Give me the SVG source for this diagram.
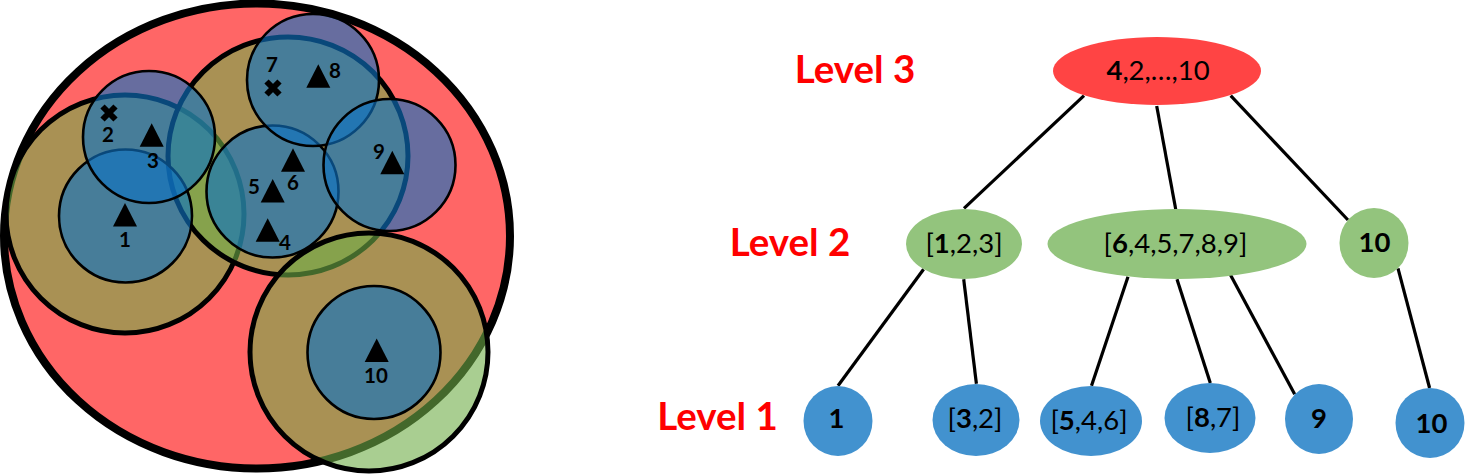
<svg xmlns="http://www.w3.org/2000/svg" width="1466" height="476" viewBox="0 0 1466 476">
<style>
.t{font-family:Lato,"Open Sans","Liberation Sans",sans-serif;fill:#000;text-anchor:middle}
.m{font-size:20.500px;font-weight:700}
.n{font-size:27.500px}
.b{font-weight:700}
.lv{font-family:Lato,"Liberation Sans",sans-serif;font-size:38.500px;font-weight:700;fill:#f00;text-anchor:middle}
.g{fill:#70ad47;fill-opacity:.6;stroke:#000;stroke-width:5}
.c{fill:#0f72c2;fill-opacity:.63;stroke:#000;stroke-width:2.600}
.l1{fill:#4292cf}
.l2{fill:#93c47d}
.e{stroke:#000;stroke-width:3.200;fill:none}
</style>
<defs>
<path id="tri" d="M0 0L12 23.500H-12Z" fill="#000"/>
<path id="x" d="M-6.500 -6.500L6.500 6.500M6.500 -6.500L-6.500 6.500" stroke="#000" stroke-width="6" fill="none"/>
</defs>
<g id="venn">
<ellipse cx="257" cy="236" rx="253" ry="232.500" fill="#f00" fill-opacity=".6" stroke="#000" stroke-width="8"/>
<circle class="g" cx="125" cy="214" r="119"/>
<ellipse class="g" cx="288" cy="156" rx="120" ry="119"/>
<circle class="g" cx="369" cy="352" r="119"/>
<circle class="c" cx="125.500" cy="216" r="66.500"/>
<circle class="c" cx="149" cy="137" r="66"/>
<circle class="c" cx="272.500" cy="191.500" r="66"/>
<circle class="c" cx="313" cy="80" r="66"/>
<circle class="c" cx="389.500" cy="165" r="66"/>
<circle class="c" cx="374" cy="352.500" r="66.500"/>
<use href="#tri" x="125" y="203"/>
<use href="#tri" x="151.700" y="123.300"/>
<use href="#tri" x="272.700" y="179"/>
<use href="#tri" x="293" y="148.300"/>
<use href="#tri" x="267.700" y="218.300"/>
<use href="#tri" x="318.300" y="64.300"/>
<use href="#tri" x="392.300" y="150.700"/>
<use href="#tri" x="376.700" y="338.500"/>
<use href="#x" x="109" y="113"/>
<use href="#x" x="273" y="88"/>
<text class="t m" x="125" y="247">1</text>
<text class="t m" x="108" y="142">2</text>
<text class="t m" x="153" y="168">3</text>
<text class="t m" x="285" y="250">4</text>
<text class="t m" x="254" y="194">5</text>
<text class="t m" x="293" y="190">6</text>
<text class="t m" x="272" y="72">7</text>
<text class="t m" x="335" y="78">8</text>
<text class="t m" x="379" y="159">9</text>
<text class="t m" x="376" y="383">10</text>
</g>
<g id="connectors">
<line class="e" x1="1084" y1="95.700" x2="964" y2="208.300"/>
<line class="e" x1="1156.700" y1="106" x2="1175.700" y2="209.300"/>
<line class="e" x1="1230.700" y1="95.700" x2="1348" y2="220"/>
<line class="e" x1="923.600" y1="269.300" x2="838" y2="385.700"/>
<line class="e" x1="963.700" y1="279.300" x2="976.400" y2="383.700"/>
<line class="e" x1="1128" y1="276.700" x2="1091.500" y2="385.700"/>
<line class="e" x1="1177" y1="279.300" x2="1210.300" y2="383"/>
<line class="e" x1="1230" y1="274" x2="1294.700" y2="394.300"/>
<line class="e" x1="1398" y1="268.300" x2="1429.600" y2="388"/>
</g>
<text class="lv" x="855" y="82.500">Level 3</text>
<text class="lv" x="790" y="256">Level 2</text>
<text class="lv" x="717.500" y="430">Level 1</text>
<g id="n-root"><ellipse cx="1157" cy="71" rx="104" ry="34" fill="#ff4444"/><text class="t n" x="1158" y="80"><tspan class="b">4</tspan>,2,…,10</text></g>
<g id="n-123"><ellipse class="l2" cx="964" cy="244" rx="58" ry="35"/><text class="t n" x="964" y="253">[<tspan class="b">1</tspan>,2,3]</text></g>
<g id="n-645"><ellipse class="l2" cx="1177" cy="244" rx="129.500" ry="35"/><text class="t n" x="1175.500" y="253">[<tspan class="b">6</tspan>,4,5,7,8,9]</text></g>
<g id="n-10b"><ellipse class="l2" cx="1374" cy="243" rx="34.500" ry="35"/><text class="t n b" x="1374.500" y="252">10</text></g>
<g id="n-1"><ellipse class="l1" cx="838" cy="421" rx="34.500" ry="35"/><text class="t n b" x="836.500" y="428">1</text></g>
<g id="n-32"><ellipse class="l1" cx="976" cy="420" rx="43.500" ry="36"/><text class="t n" x="975" y="428">[<tspan class="b">3</tspan>,2]</text></g>
<g id="n-546"><ellipse class="l1" cx="1091" cy="421" rx="51" ry="35"/><text class="t n" x="1089" y="430">[<tspan class="b">5</tspan>,4,6]</text></g>
<g id="n-87"><ellipse class="l1" cx="1210" cy="418" rx="45.500" ry="35"/><text class="t n" x="1213" y="427">[<tspan class="b">8</tspan>,7]</text></g>
<g id="n-9"><ellipse class="l1" cx="1319" cy="419" rx="34" ry="35"/><text class="t n b" x="1319" y="428">9</text></g>
<g id="n-10"><ellipse class="l1" cx="1430" cy="423" rx="34.500" ry="35"/><text class="t n b" x="1431.500" y="433">10</text></g>
</svg>
